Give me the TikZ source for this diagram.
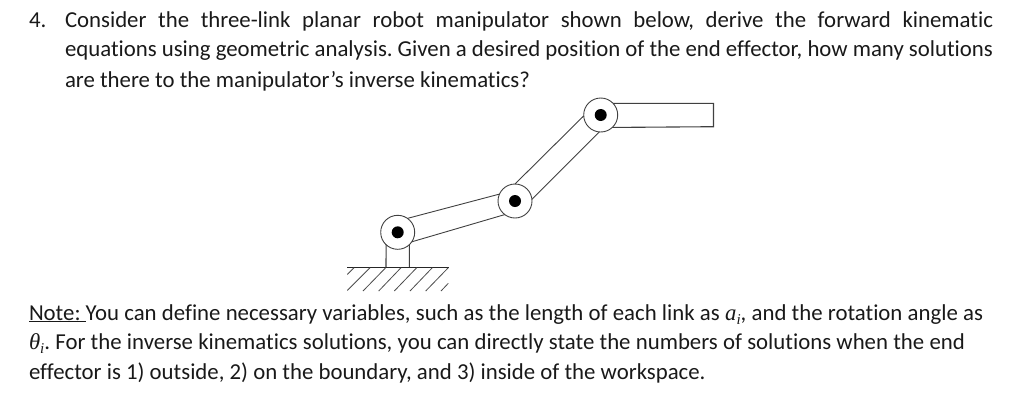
\documentclass[tikz,border=0pt]{standalone}
\usepackage{fontspec}
\setmainfont[Ligatures=NoCommon]{Carlito}
\newfontfamily\varfont{Liberation Serif}
\newcommand{\ulnote}[1]{\underline{#1}}
\newcommand{\mvar}[1]{{\varfont\itshape #1}\raisebox{-4pt}{\fontsize{15}{15}\selectfont\varfont\itshape i}}
\tikzset{
  x=1pt,y=-1pt,
  textline/.style={anchor=base west,inner sep=0pt,outer sep=0pt,font=\fontsize{22.8}{26}\selectfont\frenchspacing,text=black!90},
  joint/.style={circle,draw=black!75,line width=0.9pt,minimum size=34pt,inner sep=0pt,outer sep=0pt},
  pin/.style={circle,fill=black,minimum size=12pt,inner sep=0pt,outer sep=0pt},
  linkline/.style={draw=black!75,line width=0.9pt},
  baseline/.style={draw=black!85,line width=1.2pt},
  hatch/.style={draw=black!70,line width=0.8pt}
}
\begin{document}
\begin{tikzpicture}
\useasboundingbox (0,0) rectangle (1024,400);
% question text
\node[textline] (n) at (29,27) {4.};
\node[textline] (l1) at (65,27) {\makebox[928pt][s]{Consider the three-link planar robot manipulator shown below, derive the forward kinematic}};
\node[textline] (l2) at (65,56.5) {\makebox[928pt][s]{equations using geometric analysis. Given a desired position of the end effector, how many solutions}};
\node[textline] (l3) at (65,87) {are there to the manipulator’s inverse kinematics?};
% note text
\node[textline] (m1) at (29,320) {\makebox[954pt][s]{\ulnote{Note:\ }You can define necessary variables, such as the length of each link as \mvar{a}, and the rotation angle as}};
\node[textline] (m2) at (29,349.5) {\makebox[936pt][s]{\mvar{θ}. For the inverse kinematics solutions, you can directly state the numbers of solutions when the end}};
\node[textline] (m3) at (29,379) {effector is 1) outside, 2) on the boundary, and 3) inside of the workspace.};
% joints
\node[joint] (j1) at (397.7,232.3) {};
\node[joint] (j2) at (515,201) {};
\node[joint] (j3) at (600.7,115) {};
\node[pin] (p1) at (j1) {};
\node[pin] (p2) at (j2) {};
\node[pin] (p3) at (j3) {};
% links
\draw[linkline] (j1.55) -- (j2.156);
\draw[linkline] (j1.-34) -- (j2.233);
\draw[linkline] (j2.90) -- (j3.183);
\draw[linkline] (j2.6) -- (j3.265);
% end link
\coordinate (e1) at (713.5,103.3);
\coordinate (e2) at (713.5,126.7);
\draw[linkline,line width=1.1pt] (j3.43) -- (e1) -- (e2) -- (j3.-47);
% ground
\coordinate (gl) at (347.3,267.7);
\coordinate (gr) at (448.7,267.7);
\coordinate (pl) at (386,267.7);
\coordinate (pr) at (409.3,267.7);
\draw[linkline,line width=1.1pt] (j1.227) -- (pl);
\draw[linkline,line width=1.1pt] (j1.313) -- (pr);
\draw[baseline] (gl) -- (gr);
% hatching
\coordinate (h1a) at (354,267.7); \coordinate (h1b) at (347.3,274.5);
\coordinate (h2a) at (370,267.7); \coordinate (h2b) at (347.3,290.5);
\coordinate (h3a) at (385.7,267.7); \coordinate (h3b) at (363,291);
\coordinate (h4a) at (401,267.7); \coordinate (h4b) at (378.7,291);
\coordinate (h5a) at (416.7,267.7); \coordinate (h5b) at (394.3,291);
\coordinate (h6a) at (432.3,267.7); \coordinate (h6b) at (410,291);
\coordinate (h7a) at (448.3,267.7); \coordinate (h7b) at (425.7,291);
\coordinate (h8a) at (448.3,283.3); \coordinate (h8b) at (441,291);
\foreach \i in {1,...,8} \draw[hatch] (h\i a) -- (h\i b);
\end{tikzpicture}
\end{document}
